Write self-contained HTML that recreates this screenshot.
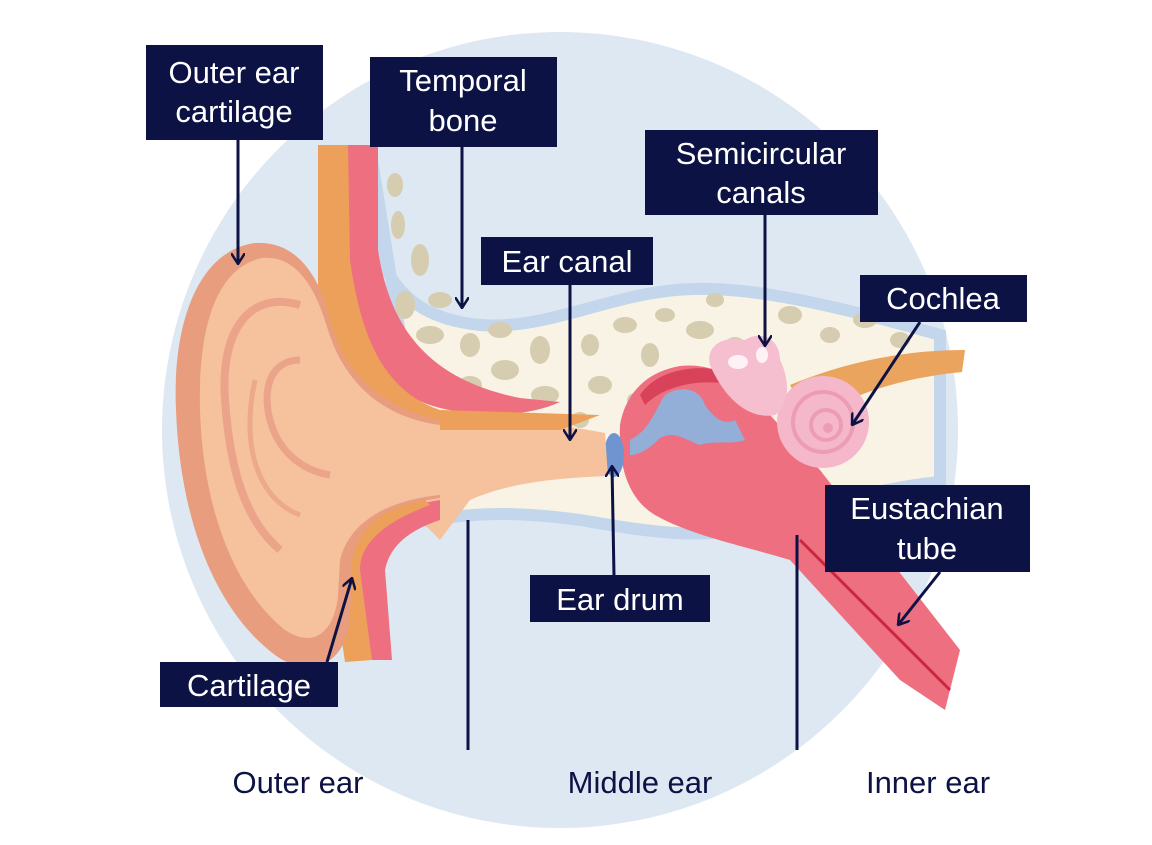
<!DOCTYPE html>
<html><head><meta charset="utf-8"><style>
html,body{margin:0;padding:0;background:#fff;}
svg{display:block}
text{font-family:"Liberation Sans",sans-serif;}
</style></head><body>
<svg width="1152" height="845" viewBox="0 0 1152 845" xmlns="http://www.w3.org/2000/svg">
<defs>
<marker id="ah" viewBox="0 0 12 14" refX="11" refY="7" markerWidth="12" markerHeight="14" orient="auto" markerUnits="userSpaceOnUse">
<path d="M0,0 L11,7 L0,14" fill="none" stroke="#0d1245" stroke-width="2.5"/>
</marker>
</defs>
<circle cx="560" cy="430" r="398" fill="#dde8f3"/>
<!-- bone band -->
<path d="M370,148 L378,250 C395,300 430,320 480,325 C540,330 600,300 660,292 C720,282 800,295 940,335 L940,482 C880,488 820,505 760,525 C700,542 640,530 580,520 C520,512 480,512 430,520 Z" fill="#f8f3e4" stroke="#c3d6ec" stroke-width="12"/>
<g fill="#d6ccb0">
<ellipse cx="395" cy="185" rx="8" ry="12"/><ellipse cx="398" cy="225" rx="7" ry="14"/><ellipse cx="420" cy="260" rx="9" ry="16"/>
<ellipse cx="405" cy="305" rx="10" ry="14"/><ellipse cx="440" cy="300" rx="12" ry="8"/><ellipse cx="430" cy="335" rx="14" ry="9"/>
<ellipse cx="470" cy="345" rx="10" ry="12"/><ellipse cx="500" cy="330" rx="12" ry="8"/><ellipse cx="505" cy="370" rx="14" ry="10"/>
<ellipse cx="540" cy="350" rx="10" ry="14"/><ellipse cx="470" cy="385" rx="12" ry="9"/><ellipse cx="545" cy="395" rx="14" ry="9"/>
<ellipse cx="590" cy="345" rx="9" ry="11"/><ellipse cx="600" cy="385" rx="12" ry="9"/><ellipse cx="625" cy="325" rx="12" ry="8"/>
<ellipse cx="650" cy="355" rx="9" ry="12"/><ellipse cx="665" cy="315" rx="10" ry="7"/><ellipse cx="700" cy="330" rx="14" ry="9"/>
<ellipse cx="715" cy="300" rx="9" ry="7"/><ellipse cx="735" cy="345" rx="10" ry="8"/><ellipse cx="790" cy="315" rx="12" ry="9"/>
<ellipse cx="830" cy="335" rx="10" ry="8"/><ellipse cx="865" cy="320" rx="12" ry="8"/><ellipse cx="900" cy="340" rx="10" ry="8"/>
<ellipse cx="580" cy="420" rx="9" ry="8"/><ellipse cx="635" cy="400" rx="8" ry="7"/>
</g>
<!-- nerve -->
<path d="M790,385 C850,360 910,350 965,350 L962,372 C900,378 850,395 810,420 Z" fill="#eaa45e"/>
<!-- middle ear pink -->
<path d="M620,425 C625,395 645,372 680,366 C715,362 740,380 770,415 L820,470 L960,650 L945,710 L900,680 L790,560 C740,545 690,535 655,515 C630,500 618,470 620,425 Z" fill="#ee6f80"/>
<path d="M640,395 C655,372 690,364 720,370 L735,385 C700,378 665,385 645,405 Z" fill="#d9435a"/>
<path d="M800,540 L950,690" stroke="#c9283f" stroke-width="3"/>
<!-- ossicles -->
<path d="M630,440 C650,430 655,410 665,395 C680,385 700,388 705,405 C715,420 725,425 735,420 L745,440 C730,445 715,440 700,445 C685,440 675,430 660,438 C650,448 640,455 630,455 Z" fill="#93afd8"/>
<!-- cochlea & canals -->
<circle cx="823" cy="422" r="46" fill="#f4b8ca"/>
<circle cx="823" cy="422" r="30" fill="none" stroke="#ec9db4" stroke-width="4"/>
<circle cx="826" cy="425" r="15" fill="none" stroke="#ec9db4" stroke-width="4"/>
<circle cx="828" cy="428" r="5" fill="#ec9db4"/>
<path d="M710,365 C705,345 725,335 745,340 C760,330 780,338 780,360 C790,380 790,405 775,415 C750,420 725,400 710,365 Z" fill="#f5bfd0"/>
<ellipse cx="738" cy="362" rx="10" ry="7" fill="#fff2f6"/><ellipse cx="762" cy="355" rx="6" ry="8" fill="#fff2f6"/>
<!-- eardrum -->
<ellipse cx="614" cy="455" rx="10" ry="22" fill="#6f94cf"/>
<!-- ear canal -->
<path d="M380,418 C450,420 530,418 605,433 L608,476 C560,478 510,482 470,500 L440,540 L400,500 Z" fill="#f5c29d"/>
<!-- pink band -->
<path d="M345,145 L378,145 L378,250 C390,330 430,380 520,398 L560,402 C520,420 470,415 440,408 C390,395 360,360 350,300 Z" fill="#ee6f80"/>
<path d="M440,520 C410,530 390,545 385,570 L392,660 L358,660 L352,540 C370,515 410,505 440,500 Z" fill="#ee6f80"/>
<!-- orange cartilage -->
<path d="M318,145 L348,145 L350,260 C360,330 380,390 440,410 L600,415 L560,430 L430,430 C360,420 330,380 318,300 Z" fill="#eca05a"/>
<path d="M430,505 C390,520 360,540 360,570 L372,660 L345,662 L330,560 C340,530 380,505 420,495 Z" fill="#eca05a"/>
<!-- pinna -->
<path d="M255,243 C200,250 172,320 176,410 C180,520 215,610 275,655 C310,680 345,665 350,620 L352,560 C360,520 390,505 440,498 L440,420 C390,410 345,380 330,320 C320,275 295,240 255,243 Z" fill="#e89d7e"/>
<path d="M262,258 C215,268 198,330 200,410 C203,510 235,590 285,630 C315,650 335,630 338,595 L340,560 C350,520 390,500 440,495 L440,425 C385,418 345,385 328,330 C315,285 295,255 262,258 Z" fill="#f5c29d"/>
<path d="M300,305 C250,290 220,330 225,400 C230,470 245,520 280,550" fill="none" stroke="#eba389" stroke-width="8"/>
<path d="M300,360 C270,360 262,390 270,420 C278,450 300,470 330,475" fill="none" stroke="#eba389" stroke-width="7"/>
<path d="M255,380 C240,450 260,500 300,515" fill="none" stroke="#eca98c" stroke-width="5"/>
<!-- connector lines -->
<g stroke="#0d1245" stroke-width="3" fill="none">
<line x1="468" y1="520" x2="468" y2="750"/>
<line x1="797" y1="535" x2="797" y2="750"/>
<line x1="238" y1="140" x2="238" y2="264" marker-end="url(#ah)"/>
<line x1="462" y1="147" x2="462" y2="308" marker-end="url(#ah)"/>
<line x1="765" y1="215" x2="765" y2="346" marker-end="url(#ah)"/>
<line x1="570" y1="285" x2="570" y2="440" marker-end="url(#ah)"/>
<line x1="920" y1="322" x2="852" y2="425" marker-end="url(#ah)"/>
<line x1="614" y1="576" x2="612" y2="466" marker-end="url(#ah)"/>
<line x1="327" y1="662" x2="352" y2="578" marker-end="url(#ah)"/>
<line x1="940" y1="572" x2="898" y2="625" marker-end="url(#ah)"/>
</g>
<!-- label boxes -->
<g fill="#0d1245">
<rect x="146" y="45" width="177" height="95"/>
<rect x="370" y="57" width="187" height="90"/>
<rect x="645" y="130" width="233" height="85"/>
<rect x="481" y="237" width="172" height="48"/>
<rect x="860" y="275" width="167" height="47"/>
<rect x="825" y="485" width="205" height="87"/>
<rect x="530" y="575" width="180" height="47"/>
<rect x="160" y="662" width="178" height="45"/>
</g>
<g fill="#fff" font-size="31" text-anchor="middle">
<text x="234" y="83">Outer ear</text><text x="234" y="122">cartilage</text>
<text x="463" y="91">Temporal</text><text x="463" y="131">bone</text>
<text x="761" y="164">Semicircular</text><text x="761" y="203">canals</text>
<text x="567" y="272">Ear canal</text>
<text x="943" y="309">Cochlea</text>
<text x="927" y="519">Eustachian</text><text x="927" y="559">tube</text>
<text x="620" y="610">Ear drum</text>
<text x="249" y="696">Cartilage</text>
</g>
<g fill="#0d1245" font-size="31" text-anchor="middle">
<text x="298" y="793">Outer ear</text>
<text x="640" y="793">Middle ear</text>
<text x="928" y="793">Inner ear</text>
</g>
</svg>
</body></html>
